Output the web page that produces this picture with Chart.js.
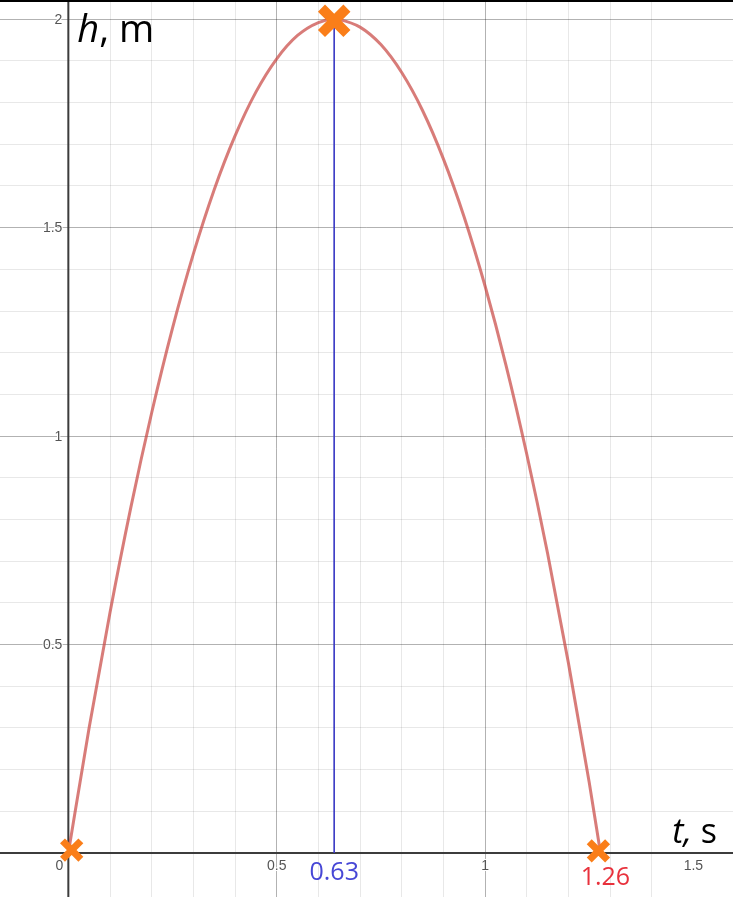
<!DOCTYPE html>
<html>
<head>
<meta charset="utf-8">
<script src="https://cdn.jsdelivr.net/npm/chart.js@4.4.1/dist/chart.umd.min.js"></script>
<style>
  html, body { margin: 0; padding: 0; background: #fff; overflow: hidden; }
  #chart { display: block; }
</style>
</head>
<body>
<canvas id="chart" width="733" height="897"></canvas>
<script>
// 曲线数据：时间 t (s) 与高度 h (m)
const timeS   = [0, 0.05, 0.1, 0.15, 0.2, 0.25, 0.3, 0.35, 0.4, 0.45, 0.5, 0.55, 0.6, 0.638,
                 0.65, 0.7, 0.75, 0.8, 0.85, 0.9, 0.95, 1.0, 1.05, 1.1, 1.15, 1.2, 1.25, 1.277];
const heightM = [0, 0.301, 0.577, 0.829, 1.056, 1.259, 1.437, 1.591, 1.720, 1.825, 1.905, 1.961, 1.992, 2.0,
                 1.999, 1.981, 1.939, 1.872, 1.781, 1.665, 1.525, 1.36, 1.171, 0.957, 0.719, 0.456, 0.169, 0];

// 标记点（起点、最高点、落地点）
const markerT = [0.008, 0.638, 1.272];
const markerH = [0.007, 1.996, 0.005];

// 坐标轴刻度标签
const xTickValues = [0.5, 1, 1.5];
const yTickValues = [0.5, 1, 1.5, 2];
const peakLabel = '0.63';
const landLabel = '1.26';

// 视图范围
const xMin = -0.164, xMax = 1.595;
const yMin = -0.1056, yMax = 2.046;

function isMultiple(v, step) {
    const r = v / step;
    return Math.abs(r - Math.round(r)) < 1e-6;
}

function gridColor(ctx) {
    const v = ctx.tick ? ctx.tick.value : NaN;
    if (isMultiple(v, 0.5)) return 'rgba(0,0,0,0.30)';
    if (isMultiple(v, 0.1)) return 'rgba(0,0,0,0.09)';
    return 'rgba(0,0,0,0)';
}

const curvePoints = timeS.map((t, i) => ({ x: t, y: heightM[i] }));
const smallMarkers = [
    { x: markerT[0], y: markerH[0] },
    { x: markerT[2], y: markerH[2] }
];
const peakMarker = [{ x: markerT[1], y: markerH[1] }];
const peakDrop = [{ x: markerT[1], y: markerH[1] }, { x: markerT[1], y: 0 }];

// 坐标轴、刻度标签和文字
const overlayPlugin = {
    id: 'overlay',
    beforeDatasetsDraw(chart) {
        const { ctx, scales: { x, y } } = chart;
        const x0 = x.getPixelForValue(0);
        const y0 = y.getPixelForValue(0);
        ctx.save();
        ctx.strokeStyle = '#3c3c3c';
        ctx.lineWidth = 2;
        ctx.beginPath();
        ctx.moveTo(x0, 0); ctx.lineTo(x0, chart.height);
        ctx.moveTo(0, y0); ctx.lineTo(chart.width, y0);
        ctx.stroke();

        ctx.font = '14px "Liberation Sans", Arial, sans-serif';
        ctx.fillStyle = '#555';
        ctx.strokeStyle = '#fff';
        ctx.lineWidth = 2;
        ctx.textBaseline = 'middle';
        ctx.textAlign = 'center';
        xTickValues.forEach(v => {
            const px = x.getPixelForValue(v);
            const label = String(v);
            ctx.strokeText(label, px, y0 + 13);
            ctx.fillText(label, px, y0 + 13);
        });
        ctx.textAlign = 'right';
        ctx.strokeText('0', x0 - 5, y0 + 13);
        ctx.fillText('0', x0 - 5, y0 + 13);
        yTickValues.forEach(v => {
            const py = y.getPixelForValue(v);
            const label = String(v);
            ctx.strokeText(label, x0 - 6, py + 1);
            ctx.fillText(label, x0 - 6, py + 1);
        });
        ctx.restore();
    },
    afterDraw(chart) {
        const { ctx, scales: { x, y } } = chart;
        const x0 = x.getPixelForValue(0);
        const y0 = y.getPixelForValue(0);
        ctx.save();
        ctx.textBaseline = 'alphabetic';
        ctx.fillStyle = '#000';

        // h, m
        ctx.textAlign = 'left';
        ctx.font = 'italic 38px "Open Sans", sans-serif';
        ctx.fillText('h', x0 + 9, 42);
        let w = ctx.measureText('h').width;
        ctx.font = '38px "Open Sans", sans-serif';
        ctx.fillText(', m', x0 + 9 + w, 42);

        // t, s
        ctx.font = 'italic 34px "Open Sans", sans-serif';
        const tw = ctx.measureText('t,').width;
        ctx.font = '34px "Open Sans", sans-serif';
        const sw = ctx.measureText(' s').width;
        const startX = 717 - tw - sw;
        ctx.font = 'italic 34px "Open Sans", sans-serif';
        ctx.fillText('t,', startX, y0 - 10);
        ctx.font = '34px "Open Sans", sans-serif';
        ctx.fillText(' s', startX + tw, y0 - 10);

        // 数值标签
        ctx.textAlign = 'center';
        ctx.font = '25px "Open Sans", sans-serif';
        ctx.fillStyle = '#4747d6';
        ctx.fillText(peakLabel, x.getPixelForValue(markerT[1]), y0 + 27);
        ctx.fillStyle = '#e8313c';
        ctx.fillText(landLabel, x.getPixelForValue(markerT[2]) + 7, y0 + 32);

        // 顶部黑边
        ctx.fillStyle = '#000';
        ctx.fillRect(0, 0, chart.width, 2);
        ctx.restore();
    }
};

const ctx = document.getElementById('chart').getContext('2d');
new Chart(ctx, {
    type: 'scatter',
    data: {
        datasets: [
            {
                data: curvePoints,
                showLine: true,
                borderColor: 'rgba(199, 68, 64, 0.7)',
                borderWidth: 3,
                pointRadius: 0,
                tension: 0.4,
                cubicInterpolationMode: 'monotone',
                order: 3
            },
            {
                data: peakDrop,
                showLine: true,
                borderColor: '#3a3ac4',
                borderWidth: 1,
                pointRadius: 0,
                order: 2
            },
            {
                data: smallMarkers,
                pointStyle: 'crossRot',
                pointRadius: 13,
                borderWidth: 7,
                borderColor: '#fa7e19',
                backgroundColor: '#fa7e19',
                order: 1
            },
            {
                data: peakMarker,
                pointStyle: 'crossRot',
                pointRadius: 18,
                borderWidth: 10,
                borderColor: '#fa7e19',
                backgroundColor: '#fa7e19',
                order: 0
            }
        ]
    },
    options: {
        responsive: false,
        animation: false,
        layout: { padding: 0, autoPadding: false },
        plugins: { legend: { display: false }, tooltip: { enabled: false } },
        scales: {
            x: {
                type: 'linear',
                min: xMin,
                max: xMax,
                ticks: { display: false, stepSize: 0.1 },
                grid: { color: gridColor, lineWidth: 1, drawTicks: false },
                border: { display: false }
            },
            y: {
                type: 'linear',
                min: yMin,
                max: yMax,
                ticks: { display: false, stepSize: 0.1 },
                grid: { color: gridColor, lineWidth: 1, drawTicks: false },
                border: { display: false }
            }
        }
    },
    plugins: [overlayPlugin]
});
</script>
</body>
</html>
